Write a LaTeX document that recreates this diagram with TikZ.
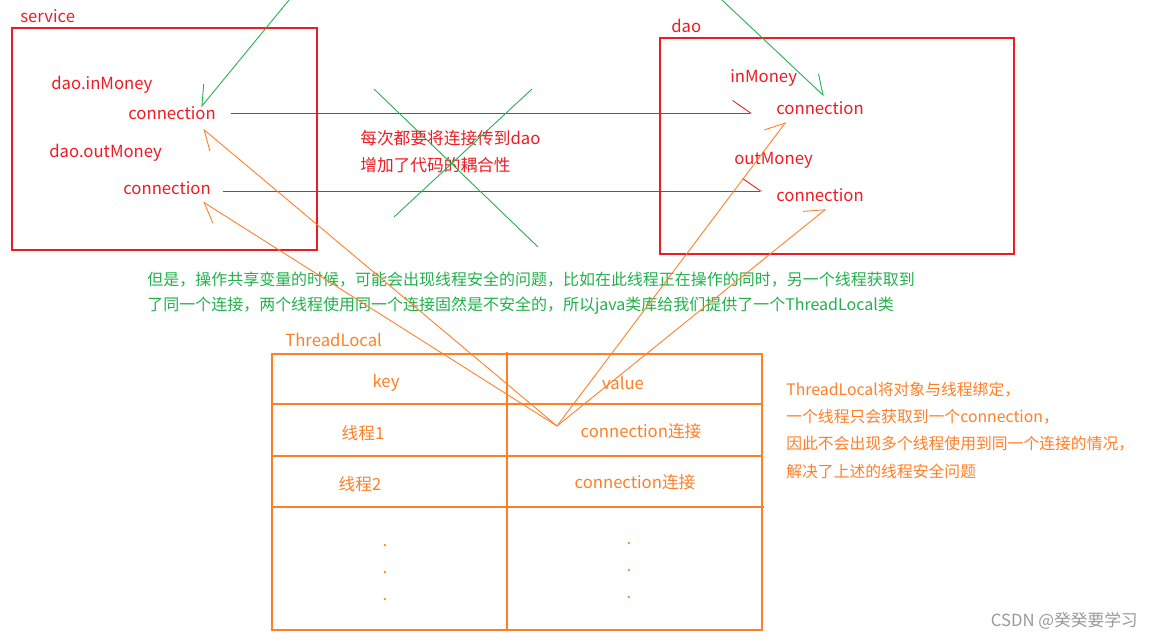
\documentclass[tikz,border=0pt]{standalone}
\usepackage{fontspec}
\setmainfont{Noto Sans CJK SC}
\definecolor{paintred}{RGB}{237,28,36}
\definecolor{paintgreen}{RGB}{34,177,76}
\definecolor{paintorange}{RGB}{255,127,39}
\usetikzlibrary{arrows.meta, positioning}

\begin{document}
\begin{tikzpicture}[x=0.02cm, y=-0.02cm,
  lbl/.style={anchor=west, inner sep=0pt, font=\fontsize{9.5}{11}\selectfont},
  redlbl/.style={lbl, text=paintred},
  grnlbl/.style={lbl, text=paintgreen, font=\fontsize{9.1}{11}\selectfont},
  orglbl/.style={lbl, text=paintorange},
  cell/.style={inner sep=0pt, text=paintorange, font=\fontsize{9.5}{11}\selectfont},
  box/.style={draw=paintred, line width=0.65pt},
  grid/.style={draw=paintorange, line width=0.65pt},
  barb/.style={-{Straight Barb[left, length=0.36cm, width=0.5cm]}, line width=0.5pt},
  rarw/.style={barb, draw=paintred},
  oarw/.style={barb, draw=paintorange},
  garw/.style={barb, draw=paintgreen},
  cross/.style={draw=paintgreen, line width=0.5pt},
]
\fill[white] (0,0) rectangle (1152,641);
\useasboundingbox (0,0) rectangle (1152,641);

% service side
\node[redlbl] (svcLbl) at (20,16) {service};
\draw[box] (12,28) rectangle (317,250);
\node[redlbl] (svcInM) at (51,85) {dao.inMoney};
\node[redlbl] (svcIn) at (128,113) {connection};
\node[redlbl] (svcOutM) at (49,153) {dao.outMoney};
\node[redlbl] (svcOut) at (123,188) {connection};

% dao side
\node[redlbl] (daoLbl) at (671,26) {dao};
\draw[box] (660,38) rectangle (1014,254);
\node[redlbl] (daoInM) at (730,78) {inMoney};
\node[redlbl] (daoIn) at (776,108) {connection};
\node[redlbl] (daoOutM) at (734,160) {outMoney};
\node[redlbl] (daoOut) at (776,195) {connection};

% passing the connection along
\draw[rarw, shorten <=0.3cm, shorten >=0.48cm] (svcIn.east) -- (svcIn.east -| daoIn.west);
\draw[rarw, shorten <=0.24cm, shorten >=0.28cm] ([yshift=-1.7pt]svcOut.east) -- ([yshift=-1.7pt]svcOut.east -| daoOut.west);
\node[redlbl] (couple1) at (360,138) {每次都要将连接传到dao};
\node[redlbl] (couple2) at (360,165) {增加了代码的耦合性};
\draw[cross] (374,89) -- (538,247);
\draw[cross] (394,217) -- (532,89);

% green notes
\coordinate (topL) at (289,0);
\coordinate (topR) at (722,0);
\draw[garw, -{Straight Barb[right, length=0.36cm, width=0.5cm]}] (topL) -- ([shift={(-15,1)}]svcIn.north east);
\draw[garw] (topR) -- ([shift={(4,-5)}]daoIn.north);
\node[grnlbl] (warn1) at (147,280) {但是，操作共享变量的时候，可能会出现线程安全的问题，比如在此线程正在操作的同时，另一个线程获取到};
\node[grnlbl] (warn2) at (147,306) {了同一个连接，两个线程使用同一个连接固然是不安全的，所以java类库给我们提供了一个ThreadLocal类};

% ThreadLocal table
\node[orglbl] (tlLbl) at (285,340) {ThreadLocal};
\draw[grid] (272,354) rectangle (762,630);
\draw[grid] (507,352) -- (507,630);
\draw[grid] (272,404) -- (762,404);
\draw[grid] (272,456) -- (762,456);
\draw[grid] (272,507) -- (764,507);
\node[cell] (keyHd) at (386,383) {key};
\node[cell] (valHd) at (623,383) {value};
\node[cell] (key1) at (363,433) {线程1};
\node[cell] (val1) at (641,431) {connection连接};
\node[cell] (key2) at (360,484) {线程2};
\node[cell] (val2) at (635,482) {connection连接};
\foreach \y in {543,570,597} \node[cell] at (385,\y+3) {.};
\foreach \y in {541,568,595} \node[cell] at (629,\y+3) {.};

% each thread gets its own connection
\coordinate (tlOrigin) at (557,426);
\draw[oarw] (tlOrigin) -- ([shift={(-13,9)}]svcIn.south east);
\draw[oarw] (tlOrigin) -- ([shift={(-8,7)}]svcOut.south east);
\draw[oarw] (tlOrigin) -- ([shift={(10,7)}]daoIn.south west);
\draw[oarw] (tlOrigin) -- ([shift={(6,7)}]daoOut.south);

\node[orglbl, font=\fontsize{9}{11}\selectfont] (note1) at (786,390) {ThreadLocal将对象与线程绑定，};
\node[orglbl, font=\fontsize{9}{11}\selectfont] (note2) at (786,417) {一个线程只会获取到一个connection，};
\node[orglbl, font=\fontsize{9}{11}\selectfont] (note3) at (786,444) {因此不会出现多个线程使用到同一个连接的情况，};
\node[orglbl, font=\fontsize{9}{11}\selectfont] (note4) at (786,471) {解决了上述的线程安全问题};

\node[anchor=east, inner sep=0pt, text=black!40, font=\fontsize{9.5}{11}\selectfont] (mark) at (1138,621) {CSDN @癸癸要学习};
\end{tikzpicture}
\end{document}
